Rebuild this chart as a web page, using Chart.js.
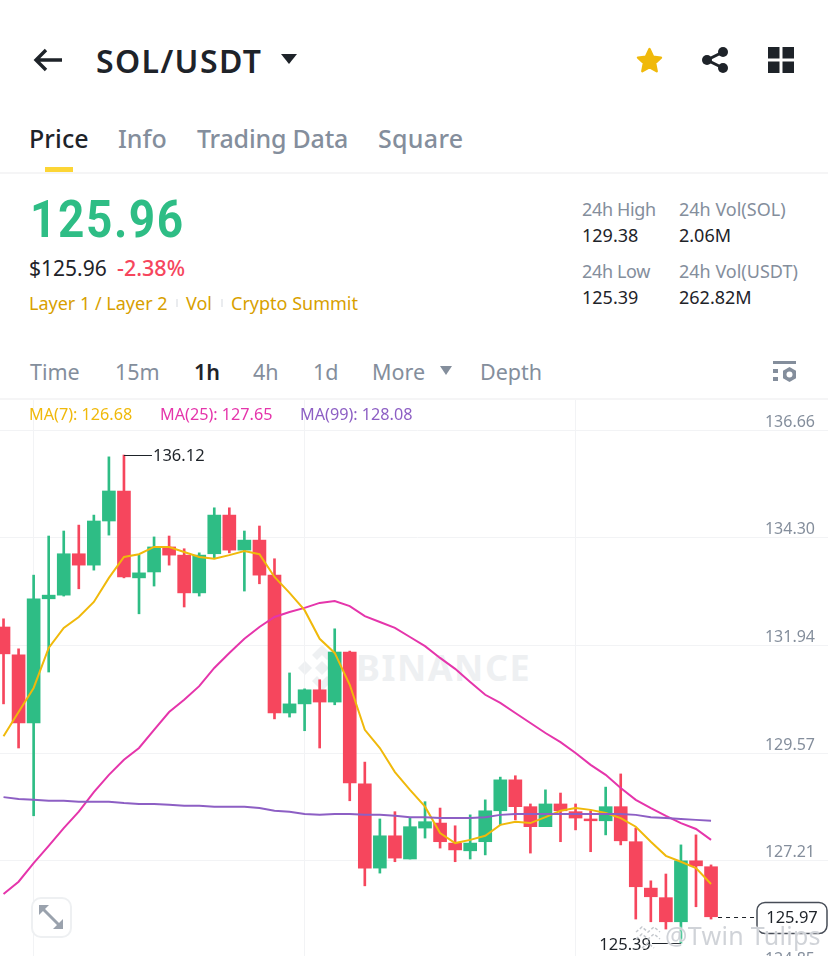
<!DOCTYPE html>
<html><head><meta charset="utf-8">
<script src="https://cdn.jsdelivr.net/npm/chart.js@4/dist/chart.umd.min.js"></script>
<style>
html,body{margin:0;padding:0;background:#fff;width:828px;height:956px;overflow:hidden;font-family:"Noto Sans",sans-serif}
#page{position:relative;width:828px;height:956px;overflow:hidden}
.t{position:absolute;white-space:nowrap;line-height:1;transform:translateY(-50%)}
.g{color:#848e9c}.d{color:#1e2329}
.hr{position:absolute;left:0;width:828px;height:2px;background:#f5f5f6}
svg{position:absolute;overflow:visible}
#chart{position:absolute;left:-4px;top:400px;z-index:2}
#wm{z-index:1}
.over{z-index:3}
</style></head><body><div id="page">
<svg style="left:33px;top:46px" width="30" height="28" viewBox="0 0 30 28"><path d="M29 14H3M13 4L3 14l10 10" fill="none" stroke="#1e2329" stroke-width="3.4"/></svg>
<div class="t d" style="left:96px;top:61px;font-size:32px;font-weight:600;letter-spacing:1.400px">SOL/USDT</div>
<svg style="left:281px;top:54px" width="16" height="10"><path d="M0 0H16L8 10Z" fill="#1e2329"/></svg>
<svg style="left:635px;top:46px" width="29" height="29" viewBox="0 0 29 29"><path d="M14.5 3l3.5 7.6 8 1-5.9 5.5 1.6 8.1-7.2-4-7.2 4 1.6-8.1L3 11.600l8-1Z" fill="#f0b90b" stroke="#f0b90b" stroke-width="2.400" stroke-linejoin="round"/></svg>
<svg style="left:701px;top:46px" width="28" height="28"><path d="M22 6L6 14l16 8" fill="none" stroke="#1e2329" stroke-width="3"/><circle cx="22" cy="6" r="5" fill="#1e2329"/><circle cx="6" cy="14" r="5" fill="#1e2329"/><circle cx="22" cy="22" r="5" fill="#1e2329"/></svg>
<svg style="left:768px;top:47px" width="26" height="26"><rect width="11.500" height="11.500" fill="#1e2329"/><rect x="14.500" width="11.500" height="11.500" fill="#1e2329"/><rect y="14.500" width="11.500" height="11.500" fill="#1e2329"/><rect x="14.500" y="14.500" width="11.500" height="11.500" fill="#1e2329"/></svg>

<div class="t d" style="left:29px;top:138px;font-size:25px;font-weight:500;letter-spacing:.1px">Price</div>
<div class="t g" style="left:118px;top:138px;font-size:25px;font-weight:500">Info</div>
<div class="t g" style="left:197px;top:138px;font-size:25px;font-weight:500;letter-spacing:-.2px">Trading Data</div>
<div class="t g" style="left:378px;top:138px;font-size:25px;font-weight:500;letter-spacing:.3px">Square</div>
<div style="position:absolute;left:45px;top:167px;width:28px;height:5px;background:#fcd535"></div>
<div class="hr" style="top:172px"></div>

<div class="t" style="left:30px;top:220px;font-size:52px;font-weight:700;color:#2ebd85;font-family:Roboto,sans-serif;letter-spacing:1.800px;transform:translateY(-50%) scaleX(.884);transform-origin:left center">125.96</div>
<div class="t d" style="left:29px;top:268px;font-size:21px">$125.96</div>
<div class="t" style="left:117px;top:268px;font-size:21.500px;font-weight:500;color:#f6465d">-2.38%</div>
<div class="t" style="left:29px;top:303px;font-size:18px;color:#d89f00">Layer 1 / Layer 2</div>
<div style="position:absolute;left:176px;top:299px;width:2px;height:8px;background:#eaecef"></div>
<div class="t" style="left:186px;top:303px;font-size:18px;color:#d89f00">Vol</div>
<div style="position:absolute;left:221px;top:299px;width:2px;height:8px;background:#eaecef"></div>
<div class="t" style="left:231px;top:303px;font-size:18px;color:#d89f00">Crypto Summit</div>

<div class="t g" style="left:582px;top:209px;font-size:18px;letter-spacing:-.35px">24h High</div>
<div class="t d" style="left:582px;top:235px;font-size:18px">129.38</div>
<div class="t g" style="left:582px;top:271px;font-size:18px;letter-spacing:-.35px">24h Low</div>
<div class="t d" style="left:582px;top:297px;font-size:18px">125.39</div>
<div class="t g" style="left:679px;top:209px;font-size:18px">24h Vol(SOL)</div>
<div class="t d" style="left:679px;top:235px;font-size:18px">2.06M</div>
<div class="t g" style="left:679px;top:271px;font-size:18px">24h Vol(USDT)</div>
<div class="t d" style="left:679px;top:297px;font-size:18px">262.82M</div>

<div class="t g" style="left:30px;top:372px;font-size:21.500px">Time</div>
<div class="t g" style="left:115px;top:372px;font-size:21.500px">15m</div>
<div class="t d" style="left:194px;top:372px;font-size:21.500px;font-weight:600">1h</div>
<div class="t g" style="left:253px;top:372px;font-size:21.500px">4h</div>
<div class="t g" style="left:313px;top:372px;font-size:21.500px">1d</div>
<div class="t g" style="left:372px;top:372px;font-size:21.500px">More</div>
<svg style="left:440px;top:366px" width="12" height="9"><path d="M0 0H12L6 9Z" fill="#848e9c"/></svg>
<div class="t g" style="left:480px;top:372px;font-size:21.500px">Depth</div>
<svg style="left:773px;top:361px" width="24" height="22"><rect width="23" height="3" fill="#848e9c"/><rect y="8" width="5" height="4" fill="#848e9c"/><rect y="16" width="5" height="4" fill="#848e9c"/><path d="M16.500 6l6.500 3.700v7.600L16.500 21 10 17.300V9.700Z" fill="#848e9c"/><circle cx="16.500" cy="13.500" r="3" fill="#fff"/></svg>
<div class="hr" style="top:398px"></div>

<svg id="wm" style="left:298px;top:645px" width="48" height="46" viewBox="0 0 48 46"><g fill="#eef0f2"><path d="M24 0L34 10 29 15 24 10 19 15 14 10Z"/><path d="M24 46L34 36 29 31 24 36 19 31 14 36Z"/><path d="M7 16L14 23 7 30 0 23Z"/><path d="M41 16L48 23 41 30 34 23Z"/><path d="M24 16L31 23 24 30 17 23Z"/></g></svg>
<div class="t" style="left:356px;top:668px;font-size:36px;font-weight:700;color:#eef0f2;letter-spacing:1.500px;z-index:1">BINANCE</div>

<canvas id="chart" width="843" height="580"></canvas>

<div class="t over" style="left:29px;top:414px;font-size:16.200px;color:#f0b90b">MA(7): 126.68</div>
<div class="t over" style="left:160px;top:414px;font-size:16.200px;color:#e535ab">MA(25): 127.65</div>
<div class="t over" style="left:300px;top:414px;font-size:16.200px;color:#8d5fc4">MA(99): 128.08</div>

<div class="over" style="position:absolute;left:31px;top:897px;width:37px;height:37px;border:2px solid #eef0f2;border-radius:10px;background:#fff"></div>
<svg class="over" style="left:38px;top:904px;z-index:4" width="26" height="26" viewBox="0 0 26 26"><g fill="#9aa2ad"><path d="M1 1H11L1 11Z"/><path d="M25 25H15L25 15Z"/></g><path d="M5 5L21 21" stroke="#9aa2ad" stroke-width="3"/></svg>

<svg class="over" style="left:634px;top:924px;z-index:4" width="30" height="32"><g fill="none" stroke="#c5c9ce" stroke-width="1.500" stroke-dasharray="3 2"><path d="M2 8l6-5 6 5 6-5 6 5"/><path d="M2 15l6-5 6 5 6-5 6 5"/><path d="M8 24l6-5 6 5"/></g></svg>
<div class="t over" style="left:665px;top:935px;font-size:25px;color:rgba(176,182,190,.6);text-shadow:0 0 2px #fff,0 0 1px #fff;letter-spacing:.3px">@Twin Tulips</div>
</div>
<script>
const categories = [0,1,2,3,4,5,6,7,8,9,10,11,12,13,14,15,16,17,18,19,20,21,22,23,24,25,26,27,28,29,30,31,32,33,34,35,36,37,38,39,40,41,42,43,44,45,46,47,48,49,50,51,52,53,54,55];
const open  = [132.34,131.73,130.23,132.96,133.04,133.95,133.70,134.67,135.33,133.42,133.55,134.10,133.92,133.09,133.95,134.80,134.03,134.25,133.48,130.45,130.65,130.96,130.69,131.79,128.89,127.04,127.75,127.24,127.92,128.03,127.59,127.42,127.62,128.30,128.98,128.39,127.95,128.45,128.28,128.12,128.08,128.39,127.62,126.60,126.39,125.86,127.20,127.07];
const close = [131.75,130.23,132.96,133.04,133.95,133.70,134.67,135.33,133.44,133.53,134.10,133.92,133.09,133.92,134.80,134.03,134.25,133.48,130.45,130.65,130.96,130.69,131.79,128.91,127.04,127.75,127.26,127.95,128.06,127.62,127.44,127.59,128.30,128.98,128.39,127.95,128.45,128.30,128.14,128.08,128.39,127.64,126.63,126.41,125.86,127.20,127.09,125.97];
const high  = [132.52,131.86,133.48,134.34,134.45,134.58,134.80,136.08,136.12,133.92,134.32,134.34,134.06,133.97,134.96,134.96,134.45,134.56,133.84,131.33,130.98,131.18,132.30,131.81,129.37,128.12,128.28,128.14,128.50,128.36,127.97,128.21,128.54,129.04,129.07,128.45,128.76,128.69,128.45,128.30,128.82,129.11,127.92,126.76,126.91,127.55,127.77,127.11];
const low   = [130.65,129.68,128.19,131.35,133.02,133.18,133.59,134.36,133.42,132.63,133.24,133.70,132.78,133.02,133.84,133.97,133.13,133.29,130.32,130.36,130.06,129.68,130.63,128.52,126.65,126.93,127.18,127.24,127.70,127.48,127.18,127.24,127.33,127.99,128.10,127.37,127.95,127.62,127.88,127.40,127.77,127.55,125.92,125.86,125.70,125.39,126.19,125.92];
const ma7   = [129.94,130.47,131.00,131.88,132.32,132.56,132.89,133.42,133.88,133.94,134.10,134.10,133.99,133.88,133.84,133.92,134.01,133.94,133.44,133.09,132.71,132.08,131.77,131.07,130.08,129.68,129.15,128.76,128.39,127.81,127.59,127.66,127.75,127.99,128.06,128.03,128.16,128.30,128.36,128.32,128.25,128.14,127.95,127.62,127.31,127.18,127.04,126.69];
const ma25  = [126.47,126.74,127.15,127.53,127.92,128.28,128.71,129.09,129.42,129.68,130.08,130.47,130.74,131.04,131.44,131.77,132.08,132.34,132.56,132.67,132.76,132.87,132.91,132.80,132.58,132.45,132.32,132.12,131.92,131.66,131.42,131.13,130.85,130.67,130.45,130.23,130.01,129.81,129.57,129.31,129.09,128.80,128.54,128.36,128.19,128.03,127.90,127.66];
const ma99  = [128.60,128.56,128.54,128.52,128.52,128.50,128.50,128.50,128.47,128.45,128.45,128.43,128.41,128.41,128.39,128.39,128.39,128.36,128.30,128.28,128.23,128.21,128.23,128.23,128.21,128.21,128.19,128.16,128.16,128.14,128.14,128.14,128.16,128.21,128.23,128.23,128.23,128.23,128.23,128.23,128.23,128.23,128.21,128.16,128.14,128.12,128.10,128.08];
const priceTicks = [136.66,134.30,131.94,129.57,127.21,124.85];
const timeGridIndexes = [2,20,38];
const peakIndex = 8, peakValue = 136.12;
const troughIndex = 45, troughValue = 125.39;
const lastIndex = 47, lastValue = 125.97;

const UP = '#2ebd85', DOWN = '#f6465d';
const colors = open.map((o,i)=> close[i] >= o ? UP : DOWN);

const annotations = {
  id:'annotations',
  afterDatasetsDraw(c){
    const {ctx, scales:{x,y}} = c;
    ctx.save();
    ctx.font = '16.5px "Noto Sans"';
    ctx.textBaseline = 'middle';
    ctx.strokeStyle = '#1e2329';
    ctx.fillStyle = '#1e2329';
    ctx.lineWidth = 1;
    let px = x.getPixelForValue(peakIndex), py = Math.round(y.getPixelForValue(peakValue))+.5;
    ctx.beginPath(); ctx.moveTo(px,py); ctx.lineTo(px+28,py); ctx.stroke();
    ctx.textAlign='left'; ctx.fillText(peakValue.toFixed(2), px+29, py+1);
    px = x.getPixelForValue(troughIndex); py = Math.round(y.getPixelForValue(troughValue))+.5;
    ctx.beginPath(); ctx.moveTo(px,py); ctx.lineTo(px-29,py); ctx.stroke();
    ctx.textAlign='right'; ctx.fillText(troughValue.toFixed(2), px-30, py+2);
    px = x.getPixelForValue(lastIndex); py = Math.round(y.getPixelForValue(lastValue))+.5;
    const boxL = 761, boxW = 70, boxH = 31;
    ctx.setLineDash([4,4]);
    ctx.beginPath(); ctx.moveTo(px+7,py); ctx.lineTo(boxL,py); ctx.stroke();
    ctx.setLineDash([]);
    ctx.beginPath(); ctx.roundRect(boxL,py-15,boxW,boxH,8);
    ctx.fillStyle='#fff'; ctx.fill();
    ctx.strokeStyle='#474d57'; ctx.lineWidth=1.5; ctx.stroke();
    ctx.fillStyle='#1e2329'; ctx.textAlign='center';
    ctx.fillText(lastValue.toFixed(2), boxL+boxW/2, py+1);
    ctx.restore();
  }
};

new Chart(document.getElementById('chart').getContext('2d'), {
  data:{
    labels: categories,
    datasets:[
      {type:'line',label:'MA(7)',data:ma7,borderColor:'#f0b90b',borderWidth:2,pointRadius:0,tension:0,order:1},
      {type:'line',label:'MA(25)',data:ma25,borderColor:'#e535ab',borderWidth:2,pointRadius:0,tension:0,order:2},
      {type:'line',label:'MA(99)',data:ma99,borderColor:'#8d5fc4',borderWidth:2,pointRadius:0,tension:0,order:0},
      {type:'bar',label:'Body',data:open.map((o,i)=>[o,close[i]]),backgroundColor:colors,barThickness:13,grouped:false,order:3,minBarLength:1},
      {type:'bar',label:'Wick',data:high.map((h,i)=>[low[i],h]),backgroundColor:colors,barThickness:2,grouped:false,order:4}
    ]
  },
  options:{
    responsive:false,animation:false,devicePixelRatio:1,
    layout:{padding:0},
    plugins:{legend:{display:false},tooltip:{enabled:false}},
    scales:{
      x:{type:'category',offset:true,stacked:false,
        grid:{color:'#f2f3f5',lineWidth:1,offset:false,drawTicks:false},
        border:{display:false},
        ticks:{display:false},
        afterBuildTicks(s){s.ticks=timeGridIndexes.map(v=>({value:v}));}
      },
      y:{type:'linear',position:'right',min:124.58,max:137.33,
        grid:{color:'#f2f3f5',lineWidth:1,drawTicks:false},
        border:{display:false},
        afterBuildTicks(s){s.ticks=priceTicks.map(v=>({value:v}));},
        afterFit(s){s.width=0;s.paddingTop=0;s.paddingBottom=0;s.paddingLeft=0;s.paddingRight=0;},
        ticks:{mirror:true,padding:-24,labelOffset:-8,color:'#848e9c',
          font:{family:'"Noto Sans"',size:16},
          callback:v=>v.toFixed(2)}
      }
    }
  },
  plugins:[annotations]
});
</script>
</body></html>
